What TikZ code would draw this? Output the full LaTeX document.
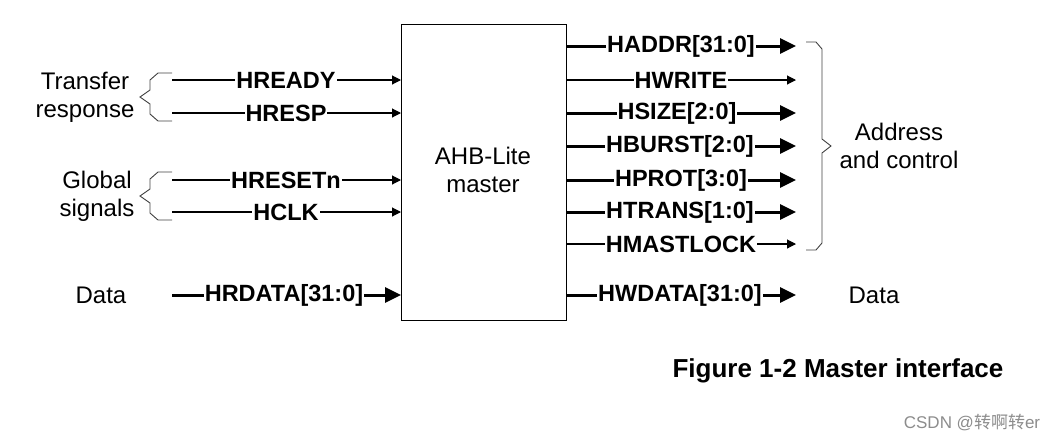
\documentclass[tikz,border=0pt]{standalone}
\usepackage{fontspec}
\setmainfont{Liberation Sans}
\newfontfamily\cjk{Noto Sans CJK SC}
\usetikzlibrary{arrows.meta}
\begin{document}
\begin{tikzpicture}[x=1pt,y=-1pt,
  sig/.style={font=\fontsize{23.5}{26}\selectfont\bfseries, fill=white, inner sep=1pt},
  lab/.style={font=\fontsize{24}{28}\selectfont, align=center},
  thin/.style={line width=1.1pt, -{Triangle[length=9pt,width=9pt]}},
  bus/.style={line width=3pt, -{Triangle[length=16pt,width=15pt]}},
  brace/.style={line width=0.9pt, black!75}]
\useasboundingbox (0,0) rectangle (1058,440);
\node[draw, line width=1.1pt, minimum width=165pt, minimum height=296pt, anchor=north west, inner sep=0] (m) at (401,24) {};
\node[lab] (mt) at (483,170) {AHB-Lite\\master};
% left signals
\foreach \n/\t/\y/\s/\xs/\lx in {a/HREADY/80/thin/172/286, b/HRESP/113/thin/172/286, c/HRESETn/180/thin/172/286, d/HCLK/212/thin/172/286, e/HRDATA[31:0]/295/bus/172/284}{
  \coordinate (l\n) at (\xs,\y);
  \coordinate (r\n) at (401,\y);
  \draw[\s] (l\n) -- (r\n);
  \node[sig] (t\n) at (\lx,\y) {\t};
}
% right signals
\foreach \n/\t/\y/\s/\lx in {f/HADDR[31:0]/46/bus/681, g/HWRITE/80/thin/681, h/HSIZE[2:0]/113/bus/677, i/HBURST[2:0]/146/bus/680, j/HPROT[3:0]/180/bus/681, k/HTRANS[1:0]/212/bus/680, l/HMASTLOCK/244/thin/681, o/HWDATA[31:0]/295/bus/680}{
  \coordinate (l\n) at (566,\y);
  \coordinate (r\n) at (796,\y);
  \draw[\s] (l\n) -- (r\n);
  \node[sig] (t\n) at (\lx,\y) {\t};
}
% braces
\draw[brace] (172,73) -- (158,73) -- (150,80) -- (150,90) -- (140,97) -- (150,104) -- (150,114) -- (158,121) -- (172,121);
\draw[brace] (172,172) -- (158,172) -- (150,179) -- (150,189) -- (140,196) -- (150,203) -- (150,213) -- (158,220) -- (172,220);
\draw[brace] (806,42) -- (816,42) -- (822,49) -- (822,139) -- (831,146) -- (822,153) -- (822,243) -- (816,250) -- (806,250);
\node[lab] (tr) at (85,97) {Transfer\\response};
\node[lab] (gs) at (97,196) {Global\\signals};
\node[lab] (dl) at (101,295) {Data};
\node[lab] (ac) at (899,146) {Address\\and control};
\node[lab] (dr) at (874,295) {Data};
\node[font=\fontsize{26}{30}\selectfont\bfseries] (fig) at (838,371) {Figure 1-2 Master interface};
\node[font=\fontsize{17}{20}\selectfont, text=black!45] (wm) at (972,423) {CSDN @{\cjk 转啊转}er};
\end{tikzpicture}
\end{document}
